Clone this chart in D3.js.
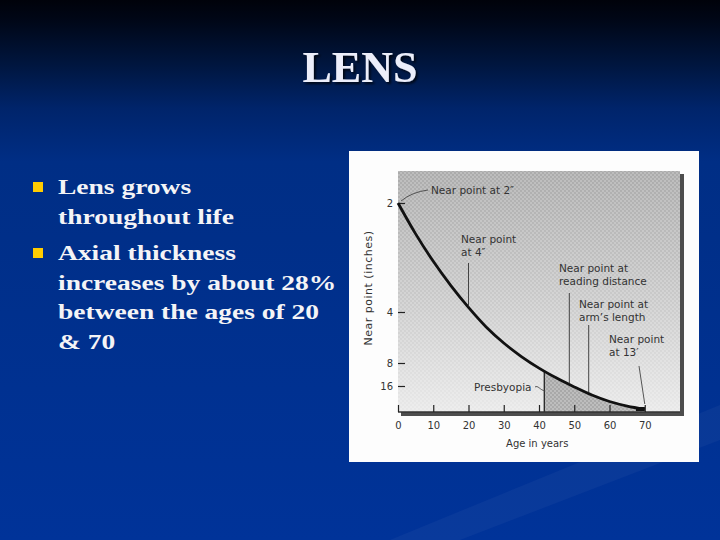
<!doctype html>
<html>
<head>
  <meta charset="utf-8">
  <script src="https://cdn.jsdelivr.net/npm/d3@7"></script>
</head>
<body style="margin:0px">
<script>

// values: age (years) vs near point (inches)
var ages = [0, 5, 10, 15, 20, 25, 30, 35, 40, 45, 50, 55, 60, 65, 70];
var nearPoint = [2, 2.33, 2.73, 3.22, 3.84, 4.69, 5.75, 7.1, 9, 11.9, 16.6, 24.7, 40.5, 73, 156];
var xTicks = [0, 10, 20, 30, 40, 50, 60, 70];
var yTicks = [2, 4, 8, 16];
var presbyopiaStart = 41.5;

var notes = [
  {lines: ["Near point at 2\u2033"], age: 0, tx: 431, ty: 194},
  {lines: ["Near point", "at 4\u2033"], age: 20, tx: 461, ty: 243, top: 263},
  {lines: ["Near point at", "reading distance"], age: 48.6, tx: 559, ty: 272, top: 293},
  {lines: ["Near point at", "arm\u2019s length"], age: 54.1, tx: 579, ty: 308, top: 325},
  {lines: ["Near point", "at 13\u2032"], age: 70, tx: 609, ty: 343}
];

var bullets = [
  ["Lens grows", "throughout life"],
  ["Axial thickness", "increases by about 28%", "between the ages of 20", "& 70"]
];

var w = 720, h = 540;
var svg = d3.select("body").append("svg").attr("width", w).attr("height", h);
var defs = svg.append("defs");

// slide background
var bg = defs.append("linearGradient").attr("id", "bg")
  .attr("x1", 0).attr("y1", 0).attr("x2", 0).attr("y2", 1);
[[0, "#00020a"], [0.04, "#000718"], [0.12, "#00163f"], [0.2, "#00246a"], [0.3, "#002e85"], [1, "#003399"]]
  .forEach(function(s) { bg.append("stop").attr("offset", s[0]).attr("stop-color", s[1]); });

svg.append("rect").attr("width", w).attr("height", h).attr("fill", "url(#bg)");
svg.append("path")
   .attr("d", "M390 540 Q560 470 720 405 L720 440 Q590 490 460 540 Z")
   .attr("fill", "#ffffff").attr("opacity", 0.035);

// title
var shadow = defs.append("filter").attr("id", "shadow")
  .attr("x", "-20%").attr("y", "-20%").attr("width", "140%").attr("height", "140%");
shadow.append("feDropShadow").attr("dx", 2).attr("dy", 2).attr("stdDeviation", 0.8)
  .attr("flood-color", "#000").attr("flood-opacity", 0.7);

svg.append("text").attr("x", 360).attr("y", 82)
   .attr("text-anchor", "middle")
   .style("font", "bold 44px 'Liberation Serif', serif")
   .attr("fill", "#eceefa")
   .attr("filter", "url(#shadow)")
   .text("LENS");

// bullets
var by = [194, 260];
bullets.forEach(function(b, i) {
  svg.append("rect").attr("x", 33).attr("y", by[i] - 12).attr("width", 10).attr("height", 10)
     .attr("fill", "#ffcc00");
  var t = svg.append("text")
     .attr("transform", "translate(58,0) scale(1.25,1)")
     .style("font", "bold 22px 'Liberation Serif', serif")
     .attr("fill", "#f4f4f6");
  t.selectAll("tspan").data(b).enter().append("tspan")
   .attr("x", 0)
   .attr("y", function(d, j) { return by[i] + j * 29.7; })
   .text(function(d) { return d; });
});

// figure box
svg.append("rect").attr("x", 349).attr("y", 151).attr("width", 350).attr("height", 311)
   .attr("fill", "#fdfdfd");

var pLeft = 398, pTop = 171, pRight = 680, pBottom = 412;

var x = d3.scaleLinear().domain([0, 80]).range([pLeft, pRight]);
// near point axis is spaced like 1/inches (diopters)
var y = d3.scalePow().exponent(-1).domain([2, 4, 8, 16, 156]).range([203, 312, 363, 386, 409]);

var pg = defs.append("linearGradient").attr("id", "plotbg")
  .attr("x1", 0).attr("y1", 0).attr("x2", 0).attr("y2", 1);
pg.append("stop").attr("offset", 0).attr("stop-color", "#ababab");
pg.append("stop").attr("offset", 0.55).attr("stop-color", "#cbcbcb");
pg.append("stop").attr("offset", 1).attr("stop-color", "#e9e9e9");

var dots = defs.append("pattern").attr("id", "dots")
  .attr("width", 4).attr("height", 4).attr("patternUnits", "userSpaceOnUse");
dots.append("circle").attr("cx", 1).attr("cy", 1).attr("r", 0.9).attr("fill", "#fff").attr("opacity", 0.3);
dots.append("circle").attr("cx", 3).attr("cy", 3).attr("r", 0.9).attr("fill", "#fff").attr("opacity", 0.3);

// plot panel with shadow
svg.append("rect").attr("x", pLeft + 3).attr("y", pTop + 3)
   .attr("width", pRight - pLeft + 1).attr("height", pBottom - pTop + 1)
   .attr("fill", "#4d4d4d");
svg.append("rect").attr("x", pLeft).attr("y", pTop)
   .attr("width", pRight - pLeft).attr("height", pBottom - pTop)
   .attr("fill", "url(#plotbg)");
svg.append("rect").attr("x", pLeft).attr("y", pTop)
   .attr("width", pRight - pLeft).attr("height", pBottom - pTop)
   .attr("fill", "url(#dots)");

var data = ages.map(function(a, i) { return {age: a, np: nearPoint[i]}; });

// presbyopia shading
defs.append("clipPath").attr("id", "presb").append("rect")
  .attr("x", x(presbyopiaStart)).attr("y", pTop)
  .attr("width", x(70) - x(presbyopiaStart)).attr("height", pBottom - pTop);

var area = d3.area().curve(d3.curveMonotoneX)
  .x(function(d) { return x(d.age); })
  .y0(pBottom)
  .y1(function(d) { return y(d.np); });

var shade = svg.append("g").attr("clip-path", "url(#presb)");
shade.append("path").datum(data).attr("d", area).attr("fill", "#6e6e6e").attr("opacity", 0.5);
shade.append("path").datum(data).attr("d", area).attr("fill", "url(#dots)");

// curve value at an age (straight between read points)
function curveY(a) {
  var i = Math.min(d3.bisectRight(ages, a), ages.length - 1);
  var t = (a - ages[i - 1]) / (ages[i] - ages[i - 1]);
  return y(nearPoint[i - 1]) + t * (y(nearPoint[i]) - y(nearPoint[i - 1]));
}

svg.append("line")
   .attr("x1", x(presbyopiaStart)).attr("x2", x(presbyopiaStart))
   .attr("y1", curveY(presbyopiaStart)).attr("y2", pBottom)
   .attr("stroke", "#222").attr("stroke-width", 1.3);

// axes
var xAxis = svg.append("g").attr("transform", "translate(0," + pBottom + ")")
  .call(d3.axisBottom(x).tickValues(xTicks).tickSize(-7).tickSizeOuter(0).tickPadding(10));
xAxis.select(".domain").attr("stroke", "#333").attr("stroke-width", 1.5)
  .attr("d", "M" + pLeft + ",0H" + pRight);
var yAxis = svg.append("g").attr("transform", "translate(" + pLeft + ",0)")
  .call(d3.axisLeft(y).tickValues(yTicks).tickSize(-7).tickPadding(5));
yAxis.select(".domain").remove();

svg.selectAll(".tick line").attr("stroke", "#222").attr("stroke-width", 1.2);
svg.selectAll(".tick text")
   .style("font", "10px 'DejaVu Sans', sans-serif")
   .attr("fill", "#333");

// curve
var line = d3.line().curve(d3.curveMonotoneX)
  .x(function(d) { return x(d.age); })
  .y(function(d) { return y(d.np); });
svg.append("path").datum(data).attr("d", line)
   .attr("fill", "none").attr("stroke", "#111").attr("stroke-width", 2.8);
svg.append("line")
   .attr("x1", x(67.5)).attr("x2", x(70)).attr("y1", y(156)).attr("y2", y(156))
   .attr("stroke", "#111").attr("stroke-width", 4);

// axis titles
svg.append("text").attr("x", x(39.5)).attr("y", 447)
   .attr("text-anchor", "middle")
   .style("font", "10px 'DejaVu Sans', sans-serif").attr("fill", "#333")
   .text("Age in years");
svg.append("text").attr("transform", "translate(372,288) rotate(-90)")
   .attr("text-anchor", "middle")
   .style("font", "11px 'DejaVu Sans', sans-serif").style("letter-spacing", "0.5px")
   .attr("fill", "#333")
   .text("Near point (inches)");

// annotations
var noteG = svg.append("g")
  .style("font", "10.5px 'DejaVu Sans', sans-serif").attr("fill", "#333");
notes.forEach(function(n) {
  var t = noteG.append("text");
  t.selectAll("tspan").data(n.lines).enter().append("tspan")
   .attr("x", n.tx).attr("y", function(d, j) { return n.ty + j * 13; })
   .text(function(d) { return d; });
  if (n.top) {
    svg.append("line").attr("x1", x(n.age)).attr("x2", x(n.age))
       .attr("y1", n.top).attr("y2", curveY(n.age) - 1)
       .attr("stroke", "#333").attr("stroke-width", 0.9);
  }
});

// leaders for the 2" and 13' notes
svg.append("path")
   .attr("d", "M" + (x(0) + 3) + "," + (y(2) - 2) + " Q412,192 428,190")
   .attr("fill", "none").attr("stroke", "#444").attr("stroke-width", 0.9);
svg.append("line").attr("x1", 639).attr("y1", 366).attr("x2", x(70)).attr("y2", y(156) - 5)
   .attr("stroke", "#444").attr("stroke-width", 0.9);

noteG.append("text").attr("x", 474).attr("y", 391).text("Presbyopia");
svg.append("path").attr("d", "M535,387 C538,385 540,390 545,391")
   .attr("fill", "none").attr("stroke", "#444").attr("stroke-width", 0.9);

</script>
</body>
</html>
